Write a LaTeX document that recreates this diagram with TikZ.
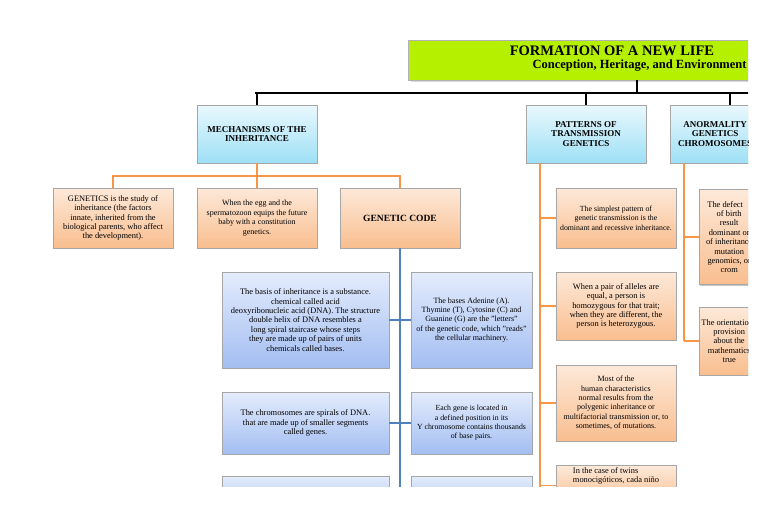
\documentclass[tikz,border=0pt]{standalone}
\usepackage{fontspec}
\setmainfont{Liberation Serif}
\usetikzlibrary{shadows}
\definecolor{ortop}{HTML}{FDE9D9}
\definecolor{orbot}{HTML}{F9BE8F}
\definecolor{bltop}{HTML}{E4ECFC}
\definecolor{blbot}{HTML}{A3BEF2}
\definecolor{cytop}{HTML}{E9F8FD}
\definecolor{cybot}{HTML}{9EE0F6}
\definecolor{lime1}{HTML}{B4F000}
\definecolor{oline}{HTML}{F79646}
\definecolor{bline}{HTML}{4F81BD}
\begin{document}
\begin{tikzpicture}[x=1pt,y=-1pt,
 base/.style={draw=gray!70,drop shadow={shadow xshift=1.2pt,shadow yshift=-1.2pt,opacity=0.45},align=center,font=\fontsize{8.4}{9.4}\selectfont,inner sep=1pt},
 orb/.style={base,top color=ortop,bottom color=orbot},
 blb/.style={base,top color=bltop,bottom color=blbot},
 cyb/.style={base,top color=cytop,bottom color=cybot,font=\fontsize{9}{9.5}\selectfont\bfseries},
 bus/.style={line width=1.4pt},
 ol/.style={draw=oline,line width=1.1pt},
 bl/.style={draw=bline,line width=1.1pt}]
\useasboundingbox (0,0) rectangle (768,512);
\begin{scope}
\clip (0,0) rectangle (748,486);
% title
\node[draw=gray!60,fill=lime1,minimum width=340pt,minimum height=40pt,anchor=north west,inner sep=0pt,drop shadow={opacity=0.3}] (title) at (408,40) {};
\node[font=\fontsize{14.5}{15}\selectfont\bfseries] (t1) at (612,51) {FORMATION OF A NEW LIFE};
\node[font=\fontsize{12.5}{13}\selectfont\bfseries,anchor=west] (t2) at (529,66) {Conception, Heritage, and Environment};
% top boxes
\node[cyb,minimum width=120pt,minimum height=58pt] (mech) at (257,134) {MECHANISMS OF THE\\INHERITANCE};
\node[cyb,minimum width=120pt,minimum height=58pt] (pat) at (586,134) {PATTERNS OF\\TRANSMISSION\\GENETICS};
\node[cyb,minimum width=120pt,minimum height=58pt,anchor=west] (anor) at (670,134) {\hspace*{-30pt}ANORMALITY\\\hspace*{-30pt}GENETICS\\\hspace*{-30pt}CHROMOSOMES};
\coordinate (bl) at (255,93); \coordinate (br) at (770,93);
\draw[bus] (bl) -- (br);
\draw[bus] (title.south -| 637,0) -- (637,93);
\draw[bus] (257,93) -- (mech.north);
\draw[bus] (586,93) -- (pat.north);
\draw[bus] (730,93) -- (730,105);
% mechanisms children
\node[orb,minimum width=120pt,minimum height=60pt] (gen) at (113,218) {GENETICS is the study of\\inheritance (the factors\\innate, inherited from the\\biological parents, who affect\\the development).};
\node[orb,minimum width=120pt,minimum height=60pt,font=\fontsize{8}{9.4}\selectfont] (egg) at (257,218) {When the egg and the\\spermatozoon equips the future\\baby with a constitution\\genetics.};
\node[orb,minimum width=120pt,minimum height=60pt,font=\fontsize{9.5}{10}\selectfont\bfseries] (code) at (400,218) {GENETIC CODE};
\draw[ol] (mech.south) -- (257,176);
\draw[ol] (gen.north) |- (257,176) -| (code.north);
\draw[ol] (257,176) -- (egg.north);
% genetic code children
\draw[bl] (code.south) -- (400,490);
\node[blb,minimum width=167pt,minimum height=96pt] (b1) at (305.5,320) {The basis of inheritance is a substance.\\chemical called acid\\deoxyribonucleic acid (DNA). The structure\\double helix of DNA resembles a\\long spiral staircase whose steps\\they are made up of pairs of units\\chemicals called bases.};
\node[blb,minimum width=121pt,minimum height=96pt,font=\fontsize{8}{9.4}\selectfont] (b2) at (471.5,320) {The bases Adenine (A).\\Thymine (T), Cytosine (C) and\\Guanine (G) are the "letters"\\of the genetic code, which "reads"\\the cellular machinery.};
\node[blb,minimum width=167pt,minimum height=62pt] (b3) at (305.5,423) {The chromosomes are spirals of DNA.\\that are made up of smaller segments\\called genes.};
\node[blb,minimum width=121pt,minimum height=62pt,font=\fontsize{7.8}{9.4}\selectfont] (b4) at (471.5,423) {Each gene is located in\\a defined position in its\\Y chromosome contains thousands\\of base pairs.};
\node[blb,minimum width=167pt,minimum height=40pt,anchor=north] (b5) at (305.5,476) {};
\node[blb,minimum width=121pt,minimum height=40pt,anchor=north] (b6) at (471.5,476) {};
\draw[bl] (b1.east) -- (b2.west);
\draw[bl] (b3.east) -- (b4.west);
% patterns children
\draw[ol] (pat.south -| 540,0) -- (540,490);
\node[orb,minimum width=120pt,minimum height=60pt,font=\fontsize{7.8}{9.4}\selectfont] (p1) at (616,218) {The simplest pattern of\\genetic transmission is the\\dominant and recessive inheritance.};
\node[orb,minimum width=120pt,minimum height=68pt] (p2) at (616,306) {When a pair of alleles are\\equal, a person is\\homozygous for that trait;\\when they are different, the\\person is heterozygous.};
\node[orb,minimum width=120pt,minimum height=76pt,font=\fontsize{8}{9.4}\selectfont] (p3) at (616,403) {Most of the\\human characteristics\\normal results from the\\polygenic inheritance or\\multifactorial transmission or, to\\sometimes, of mutations.};
\node[orb,minimum width=120pt,minimum height=40pt,anchor=north,align=left,text depth=20pt] (p4) at (616,465) {In the case of twins\\monocigóticos, cada niño};
\draw[ol] (540,0 |- p1.west) -- (p1.west);
\draw[ol] (540,0 |- p2.west) -- (p2.west);
\draw[ol] (540,0 |- p3.west) -- (p3.west);
\draw[ol] (540,0 |- p4.west) -- (p4.west);
% anormality children
\node[orb,minimum width=60pt,minimum height=95pt,anchor=west] (a1) at (699,237) {\hspace*{-8pt}The defect\\of birth\\result\\dominant or\\of inheritance\\mutation\\genomics, or\\crom};
\node[orb,minimum width=60pt,minimum height=68pt,anchor=west] (a2) at (699,341) {\hspace*{-4pt}The orientation\\provision\\about the\\mathematics\\true};
\draw[ol] (anor.south -| 684,0) -- (684,341);
\draw[ol] (684,0 |- a1.west) -- (a1.west);
\draw[ol] (684,0 |- a2.west) -- (a2.west);
\end{scope}
\end{tikzpicture}
\end{document}
